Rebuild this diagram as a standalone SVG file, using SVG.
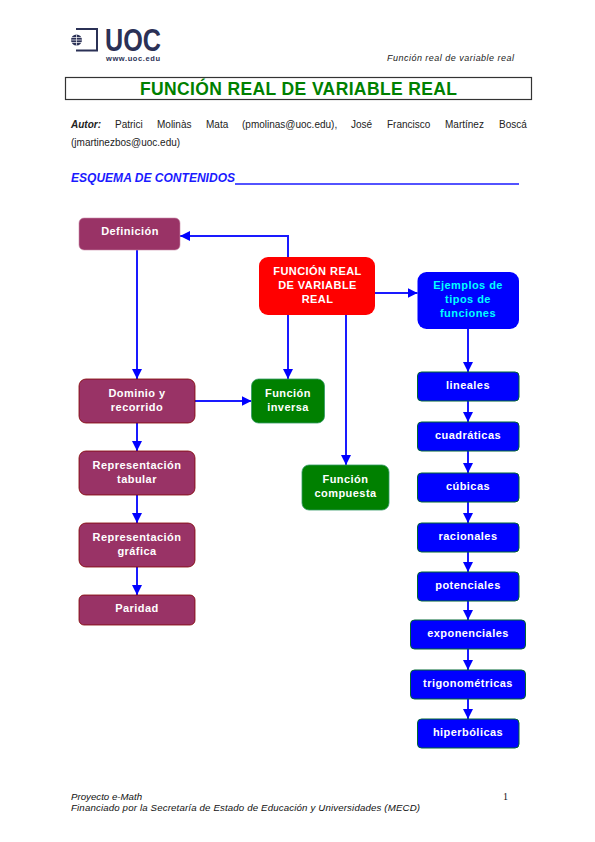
<svg xmlns="http://www.w3.org/2000/svg" width="595" height="842" viewBox="0 0 595 842">
<style>
text{font-family:"Liberation Sans",Arial,sans-serif}
.n{font-size:11px;font-weight:bold;fill:#fff;text-anchor:middle;letter-spacing:.45px}
.c{fill:none;stroke:#1a1aff;stroke-width:2}
.b{font-size:10px;fill:#222}
.f{font-size:9.7px;font-style:italic;fill:#111}
.pu{fill:#993366;stroke:#800000;stroke-width:.8}
.gr{fill:#008000;stroke:#339966;stroke-width:.8}
.bl{fill:#0000ff;stroke:#006633;stroke-width:1}
</style>
<defs><marker id="a" markerUnits="userSpaceOnUse" markerWidth="10" markerHeight="10" refX="10" refY="5" orient="auto"><path d="M0 0L10 5L0 10Z" fill="#0000ff"/></marker></defs>
<rect width="595" height="842" fill="#fff"/>
<g id="logo">
<path d="M76 29H97V50.500H76" fill="none" stroke="#2b3156" stroke-width="2"/>
<circle cx="76.500" cy="40" r="5.500" fill="#2b3156"/>
<path d="M71 37.500H82M71 40H82M71 42.500H82M76.500 34.500V45.500" stroke="#fff" stroke-width=".7"/>
<text x="105" y="51" font-size="32" font-weight="bold" fill="#2b3156" textLength="56" lengthAdjust="spacingAndGlyphs">UOC</text>
<text x="106" y="61" font-size="7.500" font-weight="bold" fill="#2b3156" textLength="54">www.uoc.edu</text>
</g>
<text x="387" y="61" font-size="9" font-style="italic" fill="#222" textLength="127">Función real de variable real</text>
<g id="titulo">
<rect x="65.500" y="77.500" width="466" height="22" fill="#fff" stroke="#333" stroke-width="1.200"/>
<text x="298.500" y="95" font-size="17.500" font-weight="bold" fill="#008000" text-anchor="middle" textLength="317">FUNCIÓN REAL DE VARIABLE REAL</text>
</g>
<text x="71" y="128" class="b" font-weight="bold" font-style="italic">Autor:</text>
<g class="b">
<text x="115" y="128">Patrici</text><text x="157" y="128">Molinàs</text><text x="206" y="128">Mata</text><text x="242" y="128">(pmolinas@uoc.edu),</text><text x="351" y="128">José</text><text x="387" y="128">Francisco</text><text x="445" y="128">Martínez</text><text x="499" y="128">Boscá</text>
<text x="71" y="146">(jmartinezbos@uoc.edu)</text>
</g>
<text x="71" y="182" font-size="12" font-weight="bold" font-style="italic" fill="#1a1aff" textLength="164">ESQUEMA DE CONTENIDOS</text>
<path d="M235 184H519" stroke="#1a1aff" stroke-width="1.500"/>

<g id="conectores" class="c">
<path d="M288 257V236H180" marker-end="url(#a)"/>
<path d="M137 250V379" marker-end="url(#a)"/>
<path d="M288 315V379" marker-end="url(#a)"/>
<path d="M346 315V465" marker-end="url(#a)"/>
<path d="M375 293H417.500" marker-end="url(#a)"/>
<path d="M195 401H251.500" marker-end="url(#a)"/>
<path d="M137 423V451" marker-end="url(#a)"/>
<path d="M137 495V523" marker-end="url(#a)"/>
<path d="M137 567V595" marker-end="url(#a)"/>
<path d="M468 329V372" marker-end="url(#a)"/>
<path d="M468 401V422" marker-end="url(#a)"/>
<path d="M468 451V473" marker-end="url(#a)"/>
<path d="M468 502V523" marker-end="url(#a)"/>
<path d="M468 552V572" marker-end="url(#a)"/>
<path d="M468 601V620" marker-end="url(#a)"/>
<path d="M468 649V670" marker-end="url(#a)"/>
<path d="M468 699V719" marker-end="url(#a)"/>
</g>

<g id="definicion"><rect x="79" y="218" width="101" height="32" rx="5" fill="#993366" stroke="#c98aa8" stroke-width=".6"/><text class="n" x="130" y="235">Definición</text></g>
<g id="dominio"><rect class="pu" x="79" y="379" width="116" height="44" rx="7"/><text class="n" x="137" y="397">Dominio y</text><text class="n" x="137" y="411">recorrido</text></g>
<g id="tabular"><rect class="pu" x="79" y="451" width="116" height="44" rx="7"/><text class="n" x="137" y="469">Representación</text><text class="n" x="137" y="483">tabular</text></g>
<g id="grafica"><rect class="pu" x="79" y="523" width="116" height="44" rx="7"/><text class="n" x="137" y="541">Representación</text><text class="n" x="137" y="555">gráfica</text></g>
<g id="paridad"><rect class="pu" x="79" y="595" width="116" height="30" rx="5"/><text class="n" x="137" y="612">Paridad</text></g>
<g id="principal"><rect x="259" y="257" width="116" height="58" rx="9" fill="#ff0000"/><text class="n" x="317.500" y="275">FUNCIÓN REAL</text><text class="n" x="317.500" y="289">DE VARIABLE</text><text class="n" x="317.500" y="303">REAL</text></g>
<g id="ejemplos"><rect x="417.500" y="272" width="101.500" height="57" rx="9" fill="#0000ff"/><text class="n" x="468" y="289" style="fill:#00ffff">Ejemplos de</text><text class="n" x="468" y="303" style="fill:#00ffff">tipos de</text><text class="n" x="468" y="317" style="fill:#00ffff">funciones</text></g>
<g id="inversa"><rect class="gr" x="251.500" y="379" width="73" height="44" rx="7"/><text class="n" x="288" y="397">Función</text><text class="n" x="288" y="411">inversa</text></g>
<g id="compuesta"><rect class="gr" x="302" y="465" width="87" height="45" rx="7"/><text class="n" x="345.500" y="483">Función</text><text class="n" x="345.500" y="497">compuesta</text></g>
<g id="lineales"><rect class="bl" x="417.500" y="372" width="101.500" height="29" rx="4"/><text class="n" x="468" y="389">lineales</text></g>
<g id="cuadraticas"><rect class="bl" x="417.500" y="422" width="101.500" height="29" rx="4"/><text class="n" x="468" y="439">cuadráticas</text></g>
<g id="cubicas"><rect class="bl" x="417.500" y="473" width="101.500" height="29" rx="4"/><text class="n" x="468" y="490">cúbicas</text></g>
<g id="racionales"><rect class="bl" x="417.500" y="523" width="101.500" height="29" rx="4"/><text class="n" x="468" y="540">racionales</text></g>
<g id="potenciales"><rect class="bl" x="417.500" y="572" width="101.500" height="29" rx="4"/><text class="n" x="468" y="589">potenciales</text></g>
<g id="exponenciales"><rect class="bl" x="410.500" y="620" width="115" height="29" rx="4"/><text class="n" x="468" y="637">exponenciales</text></g>
<g id="trigonometricas"><rect class="bl" x="410.500" y="670" width="115" height="29" rx="4"/><text class="n" x="468" y="687">trigonométricas</text></g>
<g id="hiperbolicas"><rect class="bl" x="417.500" y="719" width="101.500" height="29" rx="4"/><text class="n" x="468" y="736">hiperbólicas</text></g>

<text x="71" y="800" class="f">Proyecto e-Math</text>
<text x="71" y="811" class="f" textLength="349">Financiado por la Secretaría de Estado de Educación y Universidades (MECD)</text>
<text x="503" y="800" font-size="10" fill="#111" style="font-family:'Liberation Serif',serif">1</text>
</svg>
